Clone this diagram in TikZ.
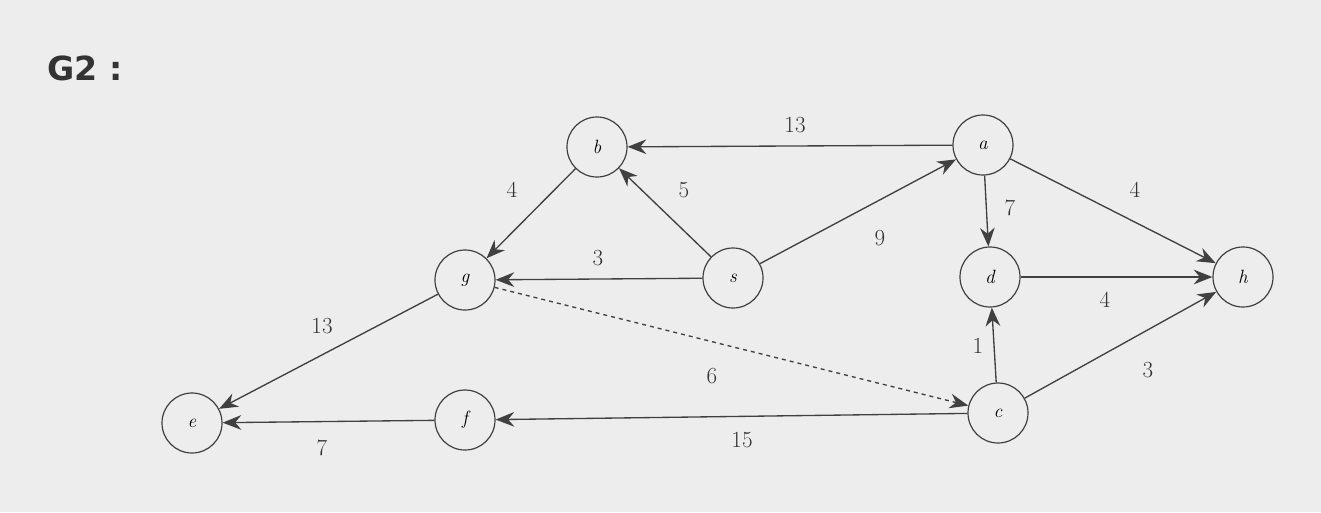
\documentclass[tikz,border=0pt]{standalone}
\usepackage{fontspec}
\newfontfamily\sans{DejaVu Sans}
\usetikzlibrary{arrows.meta}
\begin{document}
\begin{tikzpicture}[x=0.75pt,y=-0.75pt,
  vert/.style={circle,draw=black!75,line width=0.9pt,minimum size=45pt,inner sep=0pt,font=\Large\itshape},
  edge/.style={-{Stealth[length=14pt,width=11pt]},draw=black!75,line width=1pt},
  wt/.style={font=\LARGE,text=black!80}]
\fill[black!7] (0,0) rectangle (1321,512);
\useasboundingbox (0,0) rectangle (1321,512);
\node[font=\sans\bfseries\Huge,text=black!80] (title) at (85,68) {G2 :};
\node[vert] (b) at (597,147) {b};
\node[vert] (a) at (983,145) {a};
\node[vert] (g) at (465,280) {g};
\node[vert] (s) at (733,278) {s};
\node[vert] (d) at (990,277) {d};
\node[vert] (h) at (1243,277) {h};
\node[vert] (e) at (192,423) {e};
\node[vert] (f) at (465,420) {f};
\node[vert] (c) at (998,413) {c};
\draw[edge] (a) -- (b);
\draw[edge] (b) -- (g);
\draw[edge] (s) -- (b);
\draw[edge] (s) -- (a);
\draw[edge] (s) -- (g);
\draw[edge] (a) -- (d);
\draw[edge] (a) -- (h);
\draw[edge] (d) -- (h);
\draw[edge,dashed] (g) -- (c);
\draw[edge] (c) -- (d);
\draw[edge] (c) -- (h);
\draw[edge] (c) -- (f);
\draw[edge] (f) -- (e);
\draw[edge] (g) -- (e);
\node[wt] (w1) at (795,125) {13};
\node[wt] (w2) at (512,190) {4};
\node[wt] (w3) at (684,190) {5};
\node[wt] (w4) at (880,238) {9};
\node[wt] (w5) at (598,258) {3};
\node[wt] (w6) at (1010,208) {7};
\node[wt] (w7) at (1135,190) {4};
\node[wt] (w8) at (1105,300) {4};
\node[wt] (w9) at (712,376) {6};
\node[wt] (w10) at (978,346) {1};
\node[wt] (w11) at (1148,370) {3};
\node[wt] (w12) at (742,440) {15};
\node[wt] (w13) at (322,448) {7};
\node[wt] (w14) at (322,326) {13};
\end{tikzpicture}
\end{document}
